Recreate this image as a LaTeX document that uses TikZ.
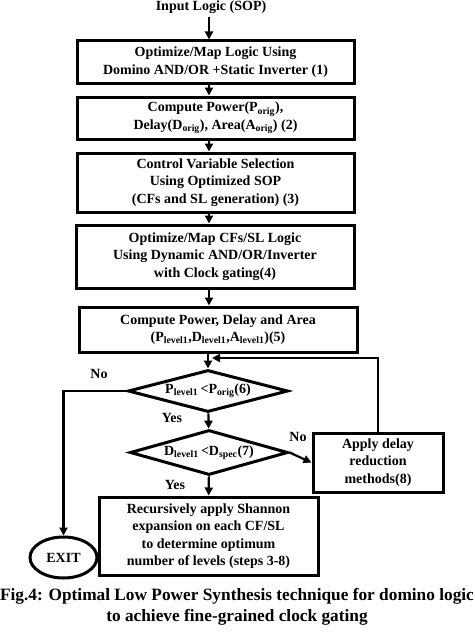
\documentclass[tikz,border=0pt]{standalone}
\usepackage{fontspec}
\setmainfont{Liberation Serif}
\usetikzlibrary{shapes.geometric,arrows.meta,positioning}

\tikzset{
  txt/.style={font=\bfseries\fontsize{14}{17.5}\selectfont,align=center},
  stepbox/.style={txt,draw,line width=3pt,inner sep=0pt},
  decision/.style={txt,draw,diamond,aspect=3.8,line width=3pt,inner sep=0pt},
  arr/.style={line width=2.2pt,-{Triangle[length=8pt,width=8pt]}},
  caption/.style={font=\bfseries\fontsize{17.3}{21}\selectfont,align=center}
}

\begin{document}
\begin{tikzpicture}[x=1pt,y=-1pt]
\useasboundingbox (0,0) rectangle (474,642);

% flow steps
\node[txt] (in) at (211,7) {Input Logic (SOP)};
\node[stepbox,minimum width=277pt,minimum height=42pt] (opt) at (215.5,62)
  {Optimize/Map Logic Using\\Domino AND/OR +Static Inverter (1)};
\node[stepbox,minimum width=277pt,minimum height=42pt] (orig) at (215.5,118)
  {Compute Power(P\textsubscript{orig}),\\Delay(D\textsubscript{orig}), Area(A\textsubscript{orig}) (2)};
\node[stepbox,minimum width=277pt,minimum height=59pt] (sel) at (215.5,182.5)
  {Control Variable Selection\\Using Optimized SOP\\(CFs and SL generation) (3)};
\node[stepbox,minimum width=278pt,minimum height=63pt] (map) at (215,256.5)
  {Optimize/Map CFs/SL Logic\\Using Dynamic AND/OR/Inverter\\with Clock gating(4)};
\node[stepbox,minimum width=278pt,minimum height=45pt] (lvl) at (218,329.5)
  {Compute Power, Delay and Area\\(P\textsubscript{level1},D\textsubscript{level1},A\textsubscript{level1})(5)};

% decisions
\node[decision,minimum width=160pt,minimum height=42pt] (pow) at (208,391)
  {P\textsubscript{level1}\,<P\textsubscript{orig}(6)};
\node[decision,minimum width=158pt,minimum height=45pt] (del) at (209,452.5)
  {D\textsubscript{level1}\,<D\textsubscript{spec}(7)};
\node[stepbox,minimum width=130pt,minimum height=59pt] (red) at (378,462.5)
  {Apply delay\\reduction\\methods(8)};
\node[stepbox,minimum width=219pt,minimum height=78pt] (shan) at (208.5,536)
  {Recursively apply Shannon\\expansion on each CF/SL\\to determine optimum\\number of levels (steps 3-8)};
\node[txt,draw,ellipse,line width=3pt,minimum width=67pt,minimum height=41pt,inner sep=0pt] (exit) at (63.5,557.5) {EXIT};

% connectors
\coordinate (col) at (209,0);
\draw[arr] (in.south -| col) -- (opt.north -| col);
\draw[arr] (opt.south -| col) -- (orig.north -| col);
\draw[arr] (orig.south -| col) -- (sel.north -| col);
\draw[arr] (sel.south -| col) -- (map.north -| col);
\draw[arr] (map.south -| col) -- (lvl.north -| col);
\draw[arr] (lvl.south -| pow) -- (pow.north);
\draw[arr] (pow) -- (del);
\draw[arr] (del) -- (shan);
\draw[arr] (del.east) -- (red.west);
\coordinate (back) at (212,358);
\draw[arr] (red.north) |- (back);
\draw[arr] (pow.west) -| (exit.north);

% branch labels
\node[txt] (no1) at (99,374) {No};
\node[txt] (yes1) at (172,418) {Yes};
\node[txt] (no2) at (298,437) {No};
\node[txt] (yes2) at (175,485) {Yes};

% caption
\node[caption] (cap1) at (237,596) {Fig.4: Optimal Low Power Synthesis technique for domino logic};
\node[caption] (cap2) at (237,617) {to achieve fine-grained clock gating};
\end{tikzpicture}
\end{document}
